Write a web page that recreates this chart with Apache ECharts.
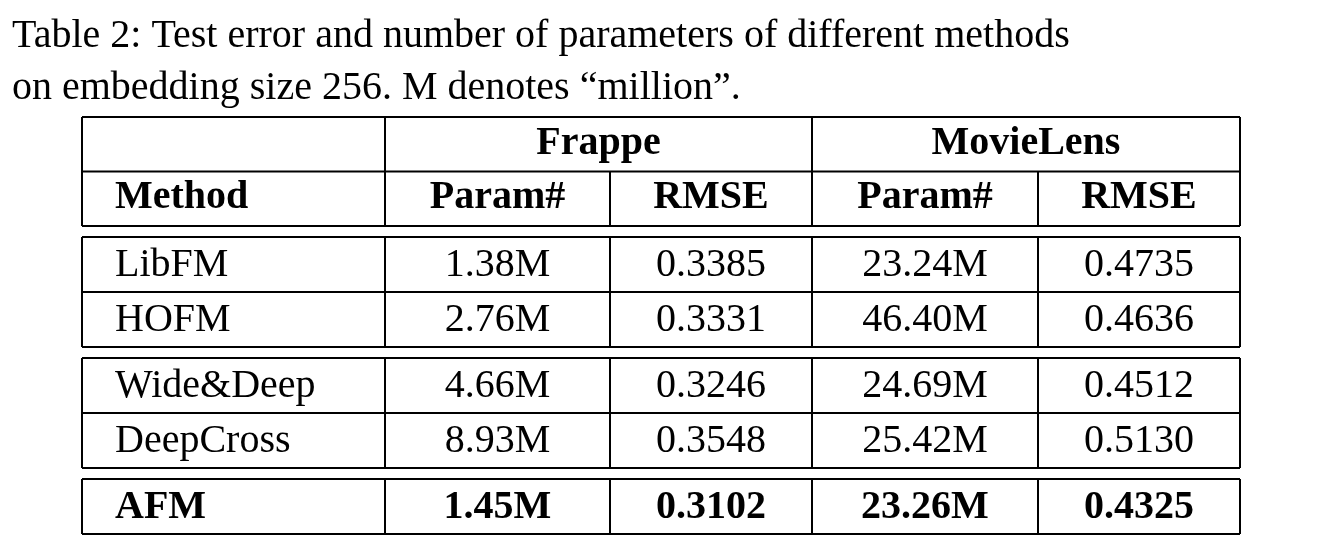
<!DOCTYPE html>
<html><head><meta charset="utf-8">
<script src="https://cdn.jsdelivr.net/npm/echarts@6/dist/echarts.min.js"></script>
<style>html,body{margin:0;background:#fff}#c{width:1332px;height:560px}</style>
</head><body><div id="c"></div>
<script>
const caption = ["Table 2: Test error and number of parameters of different methods", "on embedding size 256. M denotes \u201cmillion\u201d."];
const groupHeaders = ["Frappe", "MovieLens"];
const colHeaders = ["Method", "Param#", "RMSE", "Param#", "RMSE"];
const methods = ["LibFM", "HOFM", "Wide&Deep", "DeepCross", "AFM"];
const frappeParams = ["1.38M", "2.76M", "4.66M", "8.93M", "1.45M"];
const frappeRMSE = ["0.3385", "0.3331", "0.3246", "0.3548", "0.3102"];
const movieParams = ["23.24M", "46.40M", "24.69M", "25.42M", "23.26M"];
const movieRMSE = ["0.4735", "0.4636", "0.4512", "0.5130", "0.4325"];
const boldRows = [false, false, false, false, true];
const rowGroups = [[0,1],[2,3],[4]];

(function(){
const colX = [82, 385, 610, 812, 1038, 1240];
const FONT = '"Liberation Serif","DejaVu Serif",serif';
const FS = 40;
const g = [];
function txt(t, x, y, bold, align) {
  g.push({type:'text', x, y, style:{text:t, fontSize:FS, fontFamily:FONT, fontWeight:bold?'bold':'normal', fill:'#000', align:align||'center', verticalAlign:'middle', textAlign:align||'center', textVerticalAlign:'middle'}});
}
function line(x1,y1,x2,y2){ g.push({type:'line', shape:{x1,y1,x2,y2}, style:{stroke:'#000', lineWidth:2}}); }
function box(t0, rows, rh) {
  const b = t0 + rows*rh;
  line(colX[0], t0, colX[5], t0); line(colX[0], b, colX[5], b);
  for (let r=1;r<rows;r++) line(colX[0], t0+r*rh, colX[5], t0+r*rh);
  return b;
}
txt(caption[0], 12, 36, false, 'left');
txt(caption[1], 12, 88, false, 'left');
const rowH = 55;
let yTop = 117;
let yBot = box(yTop, 2, 54.5);
[0,1,3,5].forEach(i=>line(colX[i], yTop, colX[i], yBot));
[2,4].forEach(i=>line(colX[i], yTop+54.5, colX[i], yBot));
txt(groupHeaders[0], (colX[1]+colX[3])/2, yTop+27, true);
txt(groupHeaders[1], (colX[3]+colX[5])/2, yTop+27, true);
txt(colHeaders[0], 115, yTop+81, true, 'left');
for (let c=1;c<5;c++) txt(colHeaders[c], (colX[c]+colX[c+1])/2, yTop+81, true);
yTop = yBot + 11;
rowGroups.forEach(grp=>{
  const b = box(yTop, grp.length, rowH);
  colX.forEach(x=>line(x, yTop, x, b));
  grp.forEach((ri,k)=>{
    const y = yTop + k*rowH + rowH/2 + 1;
    const bold = boldRows[ri];
    txt(methods[ri], 115, y, bold, 'left');
    [frappeParams, frappeRMSE, movieParams, movieRMSE].forEach((arr,c)=>
      txt(arr[ri], (colX[c+1]+colX[c+2])/2, y, bold));
  });
  yTop = b + 11;
});
const chart = echarts.init(document.getElementById('c'));
chart.setOption({backgroundColor:'#fff', graphic:g});
})();
</script></body></html>
